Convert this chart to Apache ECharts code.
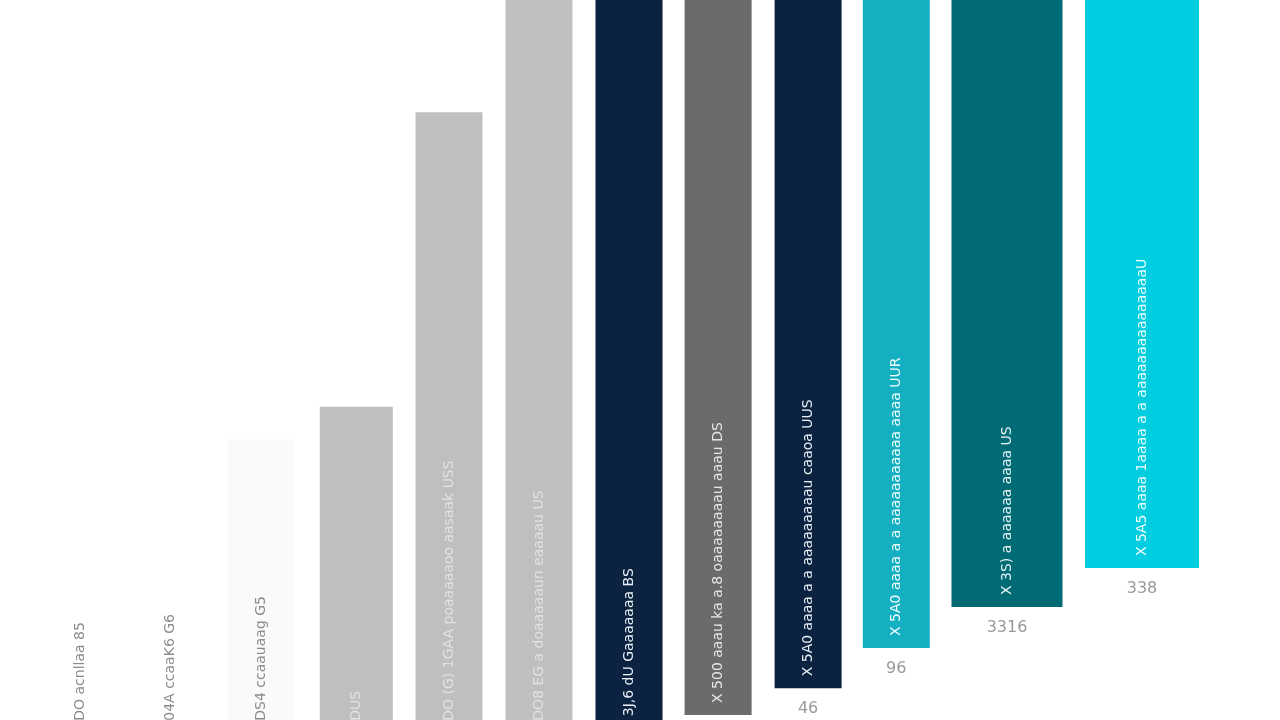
<!DOCTYPE html>
<html><head><meta charset="utf-8">
<script src="https://cdn.jsdelivr.net/npm/echarts@6/dist/echarts.min.js"></script>
<style>html,body{margin:0;padding:0;background:#fff}#c{width:1280px;height:720px}</style>
</head><body><div id="c"></div>
<script>
// x slot of each column (axis units), lower and upper value of each floating bar
const slots  = [1, 2, 3.01, 4.07, 5.1, 6.1, 7.1, 8.09, 9.09, 10.07, 11.3, 12.8];
const lows   = [-3, -3, -3, -3, -3, -3, -3, 0.7, 4.4, 10, 15.7, 21.1];
const highs  = [36, 36, 39, 43.5, 84.4, 105, 105, 105, 105, 105, 105, 105];
const barTexts = [
  'SDO acnllaa 85',
  '304A ccaaK6 G6',
  'SDS4 ccaauaag G5',
  'SDUS',
  '3DO (G) 1GAA poaaaaaoo aasaak USS',
  'SDO8 EG a doaaaaaun eaaaau US',
  '8 3J,6 dU Gaaaaaaa BS',
  'X 500 aaau ka a.8 oaaaaaaaau aaau DS',
  'X 5A0 aaaa a a aaaaaaaaau caaoa UUS',
  'X 5A0 aaaa a a aaaaaaaaaaa aaaa UUR',
  'X 3S) a aaaaaa aaaa US',
  'X 5A5 aaaa 1aaaa a a aaaaaaaaaaaaaaaU'
];
const valueTexts = ['', '', '', '', '', '', '', '', '46', '96', '3316', '338'];

const barColors = ['rgba(0,0,0,0)','rgba(0,0,0,0)','#fafafa','#bfbfbf','#bfbfbf','#bfbfbf','#0b2240','#6b6b6b','#0b2240','#14afc0','#006b74','#00cde0'];
const textColors = ['#8c8c8c','#8c8c8c','#8c8c8c','#e2e2e2','#e2e2e2','#e2e2e2','#e8eef4','#e6e6e6','#e8eef4','#eefcfd','#e6f4f5','#f0feff'];
const barWidths = [67, 67, 67, 73, 67, 67, 67, 67, 67, 67, 111, 114];

const chart = echarts.init(document.getElementById('c'));
chart.setOption({
  animation: false,
  backgroundColor: '#ffffff',
  grid: {left: 0, right: 0, top: 0, bottom: 0},
  xAxis: {type: 'value', min: 1/9, max: 129/9, show: false},
  yAxis: {type: 'value', min: 0, max: 100, show: false},
  series: [{
    type: 'custom',
    clip: false,
    encode: {x: 0, y: [1, 2]},
    data: slots.map((x, i) => [x, lows[i], highs[i]]),
    renderItem: function (params, api) {
      const i = params.dataIndex;
      const x = api.value(0), lo = api.value(1), hi = api.value(2);
      const pLo = api.coord([x, lo]);
      const pHi = api.coord([x, hi]);
      const w = barWidths[i];
      const children = [{
        type: 'rect',
        shape: {x: pLo[0] - w / 2, y: pHi[1], width: w, height: pLo[1] - pHi[1]},
        style: {fill: barColors[i]}
      }, {
        type: 'text',
        x: pLo[0], y: pLo[1] - 12, rotation: Math.PI / 2,
        style: {text: barTexts[i], fill: textColors[i], fontSize: 14, fontFamily: 'DejaVu Sans',
          align: 'left', verticalAlign: 'middle'}
      }];
      if (valueTexts[i]) {
        children.push({
          type: 'text',
          x: pLo[0], y: pLo[1] + 13,
          style: {text: valueTexts[i], fill: '#9a9a9a', fontSize: 16, fontFamily: 'DejaVu Sans',
            align: 'center', verticalAlign: 'top'}
        });
      }
      return {type: 'group', children: children};
    }
  }]
});
</script></body></html>
